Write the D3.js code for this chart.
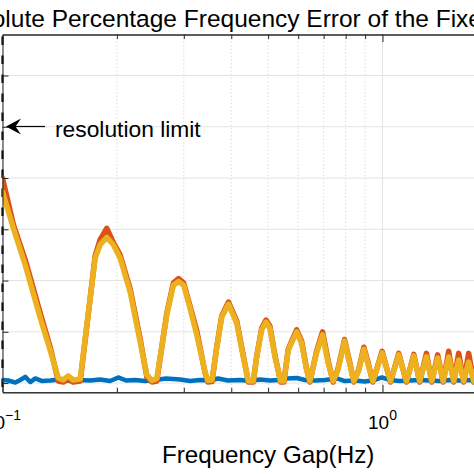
<!DOCTYPE html>
<html>
<head>
<meta charset="utf-8">
<script src="https://cdn.jsdelivr.net/npm/d3@7"></script>
<style>
html,body{margin:0;padding:0;background:#fff;overflow:hidden;}
svg{display:block;}
text{font-family:"Liberation Sans",Arial,Helvetica,sans-serif;fill:#000;}
</style>
</head>
<body>
<svg id="chart" width="474" height="474"></svg>
<script>
// ---- data ----
const freqHz = [0.100,0.1069,0.1148,0.1257,0.1335,0.1402,0.1445,0.1489,0.1535,0.1602,
  0.1681,0.1753,0.1807,0.1882,0.1958,0.2039,0.2167,0.2303,0.2398,0.2476,0.2547,
  0.2706,0.2816,0.2906,0.2999,0.3116,0.3245,0.3412,0.3470,0.3560,
  0.3662,0.3775,0.3933,0.4134,0.4302,0.4435,0.4571,
  0.4666,0.4809,0.4936,0.5057,0.5212,0.5394,0.5503,
  0.5647,0.5943,0.6125,0.6314,0.6441,
  0.6707,0.6955,0.7194,0.7417,
  0.7630,0.7946,0.8180,0.8406,
  0.8664,0.8932,0.9178,0.9430,
  0.9977,1.0496,1.1036,1.1564,1.2087,1.2531,1.3049,1.3476,1.3972,1.4446,1.4934,1.5394,1.5867,1.6355,1.6858,1.7378,1.79,1.85,1.89,1.95,1.99,2.05];
const errYellow = [3.73,3.01,2.30,1.27,0.64,0.10,0.06,0.14,0.06,0.08,
  1.35,2.44,2.70,2.84,2.70,2.44,1.78,0.80,0.16,0.05,0.09,
  1.33,1.91,1.98,1.91,1.46,0.94,0.22,0.05,0.06,
  0.68,1.29,1.54,1.17,0.51,0.04,0.04,
  0.51,1.04,1.19,1.07,0.51,0.04,0.04,
  0.64,1.00,0.78,0.25,0.04,
  0.59,0.94,0.39,0.04,
  0.25,0.82,0.41,0.04,
  0.25,0.66,0.35,0.04,
  0.59,0.04,0.55,0.04,0.53,0.04,0.51,0.04,0.49,0.04,0.51,0.04,0.45,0.04,0.41,0.04,0.42,0.04,0.40,0.04,0.39,0.04];
const errOrange = [4.00,3.08,2.40,1.36,0.70,0.04,0.02,0.08,0.02,0.04,
  1.33,2.48,2.80,3.02,2.74,2.50,1.84,0.86,0.12,0.02,0.04,
  1.36,1.95,2.04,1.95,1.50,1.02,0.20,0.02,0.03,
  0.70,1.31,1.58,1.21,0.54,0.02,0.02,
  0.52,1.07,1.23,1.11,0.54,0.02,0.02,
  0.66,1.04,0.82,0.28,0.02,
  0.62,1.00,0.44,0.02,
  0.27,0.85,0.44,0.02,
  0.27,0.70,0.38,0.02,
  0.62,0.02,0.58,0.02,0.56,0.02,0.58,0.02,0.55,0.02,0.62,0.02,0.58,0.02,0.58,0.02,0.55,0.02,0.52,0.02,0.50,0.02];
const freqBlue = [0.100,0.1036,0.1081,0.1114,0.1148,0.1183,0.1220,0.1272,0.1335,0.1419,0.1507,0.1602,0.1701,0.1807,0.1920,0.2016,0.2115,0.2234,0.2373,0.2521,0.2695,0.2933,0.3116,0.3311,0.3517,0.3692,0.3922,0.4217,0.4480,0.4760,0.5057,0.5372,0.5605,0.5954,0.6249,0.6639,0.7053,0.7586,0.7962,0.8458,0.8986,0.9546,0.9959,1.0452,1.1104,1.1796,1.2531,1.3313,1.4143,1.5028,1.5966,1.6963,1.8021];
const errBlue = [0.06,0.05,0.01,0.06,0.12,0.02,0.09,0.04,0.05,0.07,0.04,0.06,0.05,0.07,0.04,0.11,0.05,0.06,0.04,0.06,0.09,0.07,0.04,0.06,0.05,0.09,0.05,0.06,0.04,0.07,0.05,0.06,0.09,0.10,0.06,0.05,0.06,0.09,0.04,0.05,0.03,0.06,0.11,0.06,0.04,0.05,0.06,0.05,0.04,0.06,0.05,0.06,0.05];
const xMajorTicks = [0.1, 1];
const xMajorLabels = [["10","\u22121"],["10","0"]];
const xMinorTicks = [0.2,0.3,0.4,0.5,0.6,0.7,0.8,0.9,2];
const yTicks = [0,1,2,3,4,5,6];
const resolutionLimitHz = 0.1;
const titleText = "Absolute Percentage Frequency Error of the Fixed Gap";
const xLabelText = "Frequency Gap(Hz)";
const annotationText = "resolution limit";

(function(){
// ---- layout ----
const svg = d3.select("#chart");
const pL = 2.5, pR = 533.7, pT = 34.5, pB = 392.3;
const x = d3.scaleLog().domain([0.1, 2.5]).range([pL, pR]);
const y = d3.scaleLinear().domain([-0.18, 6.8]).range([pB, pT]);

const defs = svg.append("defs");
defs.append("clipPath").attr("id","clip").append("rect")
  .attr("x", pL).attr("y", pT).attr("width", pR-pL).attr("height", pB-pT);

// grid
const grid = svg.append("g");
grid.selectAll("line.hg").data(yTicks).join("line")
  .attr("x1", pL).attr("x2", pR).attr("y1", d=>y(d)).attr("y2", d=>y(d))
  .attr("stroke","#e3e3e3").attr("stroke-width",1);
grid.selectAll("line.vminor").data(xMinorTicks).join("line")
  .attr("x1", d=>x(d)).attr("x2", d=>x(d)).attr("y1", pT).attr("y2", pB)
  .attr("stroke","#d4d4d4").attr("stroke-width",1).attr("stroke-dasharray","1.2,2.4");
grid.selectAll("line.vmajor").data(xMajorTicks).join("line")
  .attr("x1", d=>x(d)).attr("x2", d=>x(d)).attr("y1", pT).attr("y2", pB)
  .attr("stroke","#e3e3e3").attr("stroke-width",1);

// dashed resolution limit line
svg.append("line")
  .attr("x1", x(resolutionLimitHz)).attr("x2", x(resolutionLimitHz))
  .attr("y1", pT).attr("y2", pB)
  .attr("stroke","#000").attr("stroke-width",2.2).attr("stroke-dasharray","8.5,10.5")
  .attr("stroke-dashoffset", -2);

// curves
const plot = svg.append("g").attr("clip-path","url(#clip)");
const lineGen = d3.line().x(d=>x(d[0])).y(d=>y(d[1]));
plot.append("path").datum(freqBlue.map((f,i)=>[f,errBlue[i]]))
  .attr("d", lineGen).attr("fill","none").attr("stroke","#0072BD")
  .attr("stroke-width",4.5).attr("stroke-linejoin","round").attr("stroke-linecap","round");
plot.append("path").datum(freqHz.map((f,i)=>[f,errOrange[i]]))
  .attr("d", lineGen).attr("fill","none").attr("stroke","#D95319")
  .attr("stroke-width",5.5).attr("stroke-linejoin","round").attr("stroke-linecap","round");
plot.append("path").datum(freqHz.map((f,i)=>[f,errYellow[i]]))
  .attr("d", lineGen).attr("fill","none").attr("stroke","#EDB120")
  .attr("stroke-width",5.5).attr("stroke-linejoin","round").attr("stroke-linecap","round");

// axes (box)
const axisColor = "#262626";
function styleAxis(g){
  g.select(".domain").attr("stroke", axisColor).attr("stroke-width",1);
  g.selectAll(".tick line").attr("stroke", axisColor).attr("stroke-width",1);
}
svg.append("g").attr("transform",`translate(0,${pB})`)
  .call(d3.axisBottom(x).tickValues(xMinorTicks).tickSize(-4.5).tickSizeOuter(0).tickFormat(""))
  .call(styleAxis);
svg.append("g").attr("transform",`translate(0,${pB})`)
  .call(d3.axisBottom(x).tickValues(xMajorTicks).tickSize(-7.5).tickSizeOuter(0).tickFormat(""))
  .call(styleAxis);
svg.append("g").attr("transform",`translate(0,${pT})`)
  .call(d3.axisTop(x).tickValues(xMinorTicks).tickSize(-4.5).tickSizeOuter(0).tickFormat(""))
  .call(styleAxis);
svg.append("g").attr("transform",`translate(0,${pT})`)
  .call(d3.axisTop(x).tickValues(xMajorTicks).tickSize(-7.5).tickSizeOuter(0).tickFormat(""))
  .call(styleAxis);
svg.append("g").attr("transform",`translate(${pL},0)`)
  .call(d3.axisLeft(y).tickValues(yTicks).tickSize(-6).tickSizeOuter(0).tickFormat(""))
  .call(styleAxis);

// x tick labels with superscripts
const lbl = svg.append("g");
xMajorTicks.forEach((v,i)=>{
  const t = lbl.append("text").attr("x", x(v)).attr("y", 428.5)
    .attr("text-anchor","middle").attr("font-size",19);
  t.append("tspan").text(xMajorLabels[i][0]);
  t.append("tspan").attr("font-size",14).attr("dy",-8.5).text(xMajorLabels[i][1]);
});

// x axis label
svg.append("text").attr("x", (pL+pR)/2).attr("y", 462.5)
  .attr("text-anchor","middle").attr("font-size",24.2).text(xLabelText);

// title
svg.append("text").attr("x", -50.5).attr("y", 26.5)
  .attr("text-anchor","start").attr("font-size",24.5).text(titleText);

// annotation arrow
const ay = 126.5;
svg.append("line").attr("x1", 15).attr("x2", 45).attr("y1", ay).attr("y2", ay)
  .attr("stroke","#000").attr("stroke-width",1.2);
svg.append("path")
  .attr("d", `M6,${ay} L21,${ay-8} L15.5,${ay} L21,${ay+8} Z`)
  .attr("fill","#000");
svg.append("text").attr("x", 55).attr("y", 136.5)
  .attr("font-size",22.8).text(annotationText);
})();
</script>
</body>
</html>
